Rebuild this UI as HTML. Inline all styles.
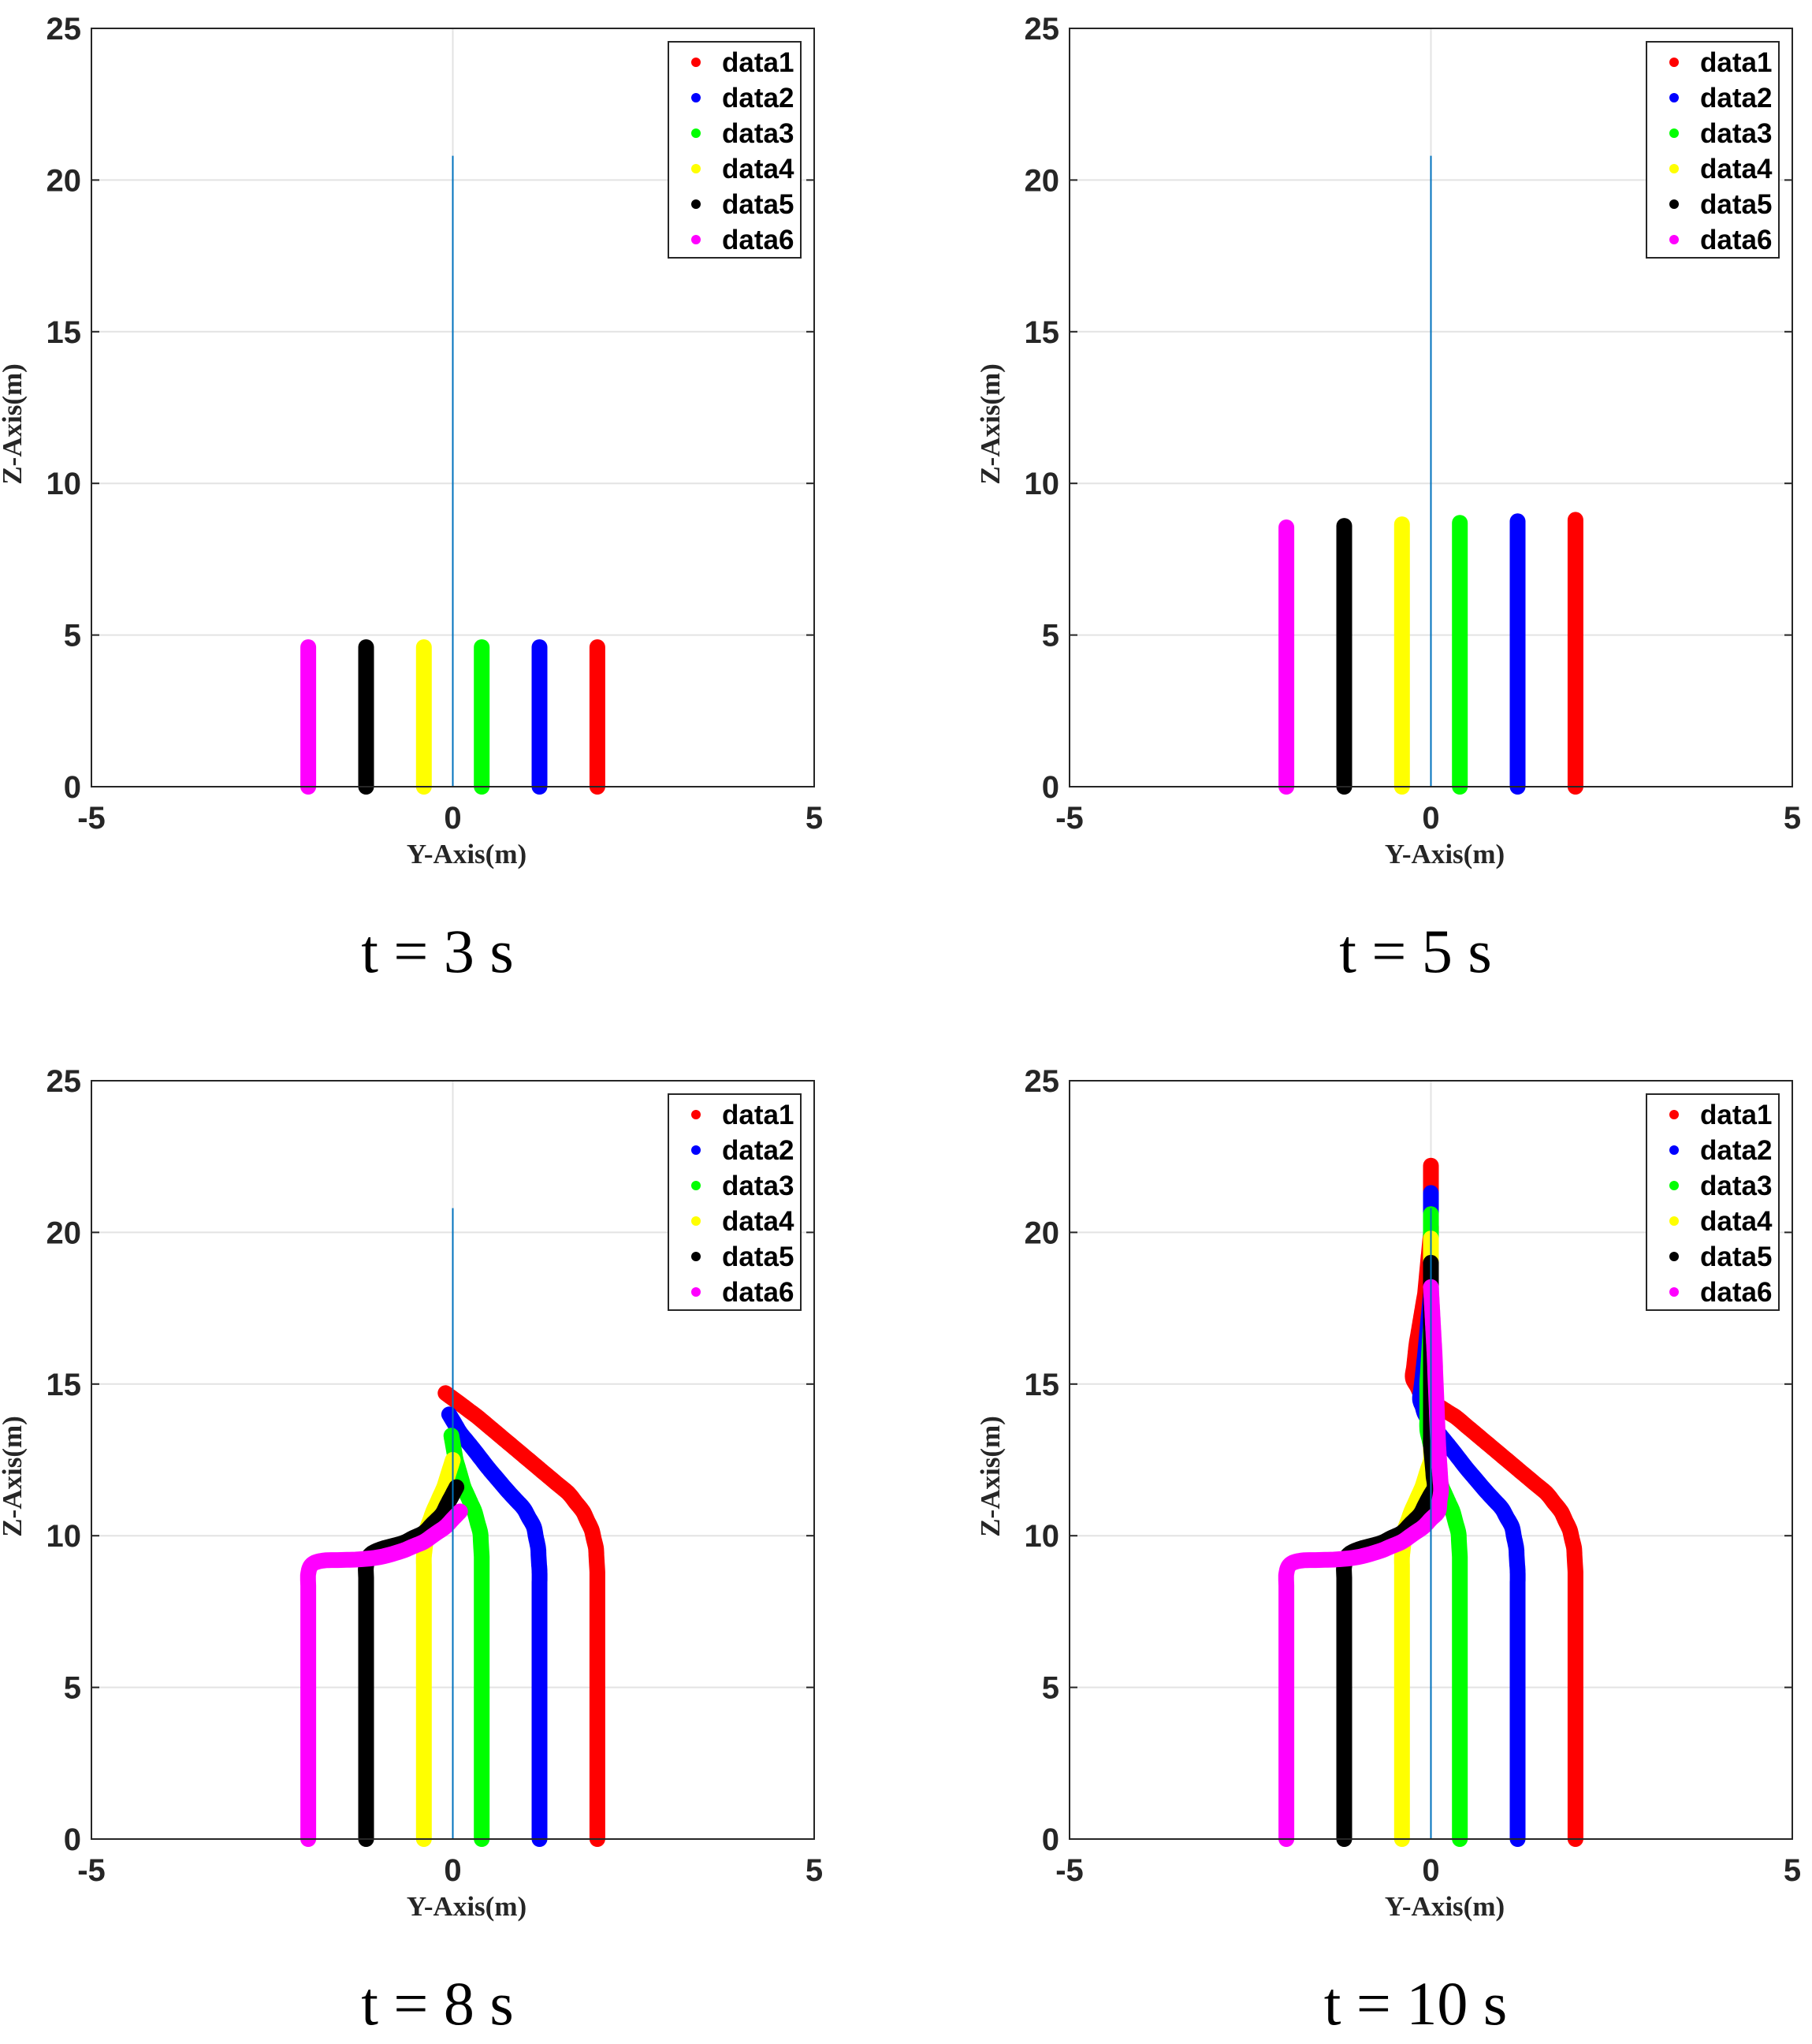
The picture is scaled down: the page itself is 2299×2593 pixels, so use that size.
<!DOCTYPE html>
<html><head><meta charset="utf-8"><style>
html,body{margin:0;padding:0;background:#fff;}
svg{display:block;}
</style></head><body>
<svg id="s" width="2299" height="2593" xmlns="http://www.w3.org/2000/svg"></svg>
<script>
const NS="http://www.w3.org/2000/svg";
const S=document.getElementById('s');
function el(t,a,txt){const e=document.createElementNS(NS,t);for(const k in a)e.setAttribute(k,a[k]);if(txt!==undefined)e.textContent=txt;S.appendChild(e);return e;}
function densify(P){
 const out=[P[0]];
 for(let i=1;i<P.length;i++){
  const a=P[i-1],b=P[i];const d=Math.hypot(b[0]-a[0],b[1]-a[1]);
  const n=Math.max(1,Math.ceil(d/0.4));
  for(let k=1;k<=n;k++)out.push([a[0]+(b[0]-a[0])*k/n,a[1]+(b[1]-a[1])*k/n]);
 }
 return out;
}
function smooth(P){
 if(P.length<3)return P;
 P=densify(P);
 const out=[];
 for(let i=0;i<P.length-1;i++){
  const p0=P[Math.max(0,i-1)],p1=P[i],p2=P[i+1],p3=P[Math.min(P.length-1,i+2)];
  for(let k=0;k<6;k++){
   const t=k/6,t2=t*t,t3=t2*t;
   const f=(a,b,c,d)=>0.5*((2*b)+(-a+c)*t+(2*a-5*b+4*c-d)*t2+(-a+3*b-3*c+d)*t3);
   out.push([f(p0[0],p1[0],p2[0],p3[0]),f(p0[1],p1[1],p2[1],p3[1])]);
  }
 }
 out.push(P[P.length-1]);return out;
}
const W=917,H=962;
const cols=['#ff0000','#0000ff','#00ff00','#ffff00','#000000','#ff00ff'];
const base={
 red:[[2,0],[2,8.8],[1.98,9.6],[1.92,10.2],[1.8,10.8],[1.6,11.4],[1.3,12],[1.0,12.6],[0.65,13.3],[0.35,13.9]],
 blue:[[1.2,0],[1.2,8.8],[1.18,9.6],[1.12,10.3],[0.98,10.9],[0.75,11.5],[0.5,12.2],[0.27,12.9],[0.1,13.4]],
 green:[[0.4,0],[0.4,9.3],[0.38,10.1],[0.3,10.8],[0.15,11.6],[0.04,12.5]],
 yellow:[[-0.4,0],[-0.4,9.3],[-0.36,10.2],[-0.27,10.8],[-0.12,11.6],[0,12.5]],
 black:[[-1.2,0],[-1.2,9],[-1.15,9.35],[-1.0,9.55],[-0.7,9.75],[-0.4,10.1],[-0.15,10.7],[0.05,11.6]],
 mag:[[-2,0],[-2,8.75],[-1.95,9.05],[-1.8,9.18],[-1.3,9.22],[-1.0,9.3],[-0.7,9.5],[-0.4,9.8],[-0.1,10.3],[0.1,10.8]]
};
const t8=[
 base.red.concat([[0.1,14.35],[-0.1,14.7]]),
 base.blue.concat([[-0.05,14]]),
 base.green.concat([[-0.02,13.3]]),
 base.yellow,
 base.black,
 base.mag];
const t10=[
 base.red.concat([[0.12,14.25],[-0.12,14.6],[-0.25,15.2],[-0.2,16.3],[-0.08,18],[0,20],[0,22.2]]),
 base.blue.concat([[-0.08,14],[-0.15,14.5],[-0.08,16],[0,18],[0,21.3]]),
 base.green.concat([[-0.05,13.5],[-0.05,15],[0,17],[0,20.6]]),
 base.yellow.concat([[0,14],[0,19.8]]),
 base.black.concat([[0,13],[0,19]]),
 base.mag.concat([[0.14,11.5],[0.1,13],[0.05,16],[0,18.2]])];
const order=[2,1.2,0.4,-0.4,-1.2,-2];
const t3=order.map(x=>[[x,0],[x,4.6]]);
const tops5=[8.8,8.75,8.7,8.65,8.6,8.55];
const t5=order.map((x,i)=>[[x,0],[x,tops5[i]]]);
const panels=[
 {L:116,T:36,d:t3,lab:'t = 3 s'},
 {L:1357,T:36,d:t5,lab:'t = 5 s'},
 {L:116,T:1371,d:t8,lab:'t = 8 s'},
 {L:1357,T:1371,d:t10,lab:'t = 10 s'}];
panels.forEach(p=>{
 const X=x=>p.L+(x+5)*W/10, Y=z=>p.T+H-z*H/25;
 [5,10,15,20].forEach(z=>el('line',{x1:p.L,x2:p.L+W,y1:Y(z),y2:Y(z),stroke:'#e3e3e3','stroke-width':2}));
 el('line',{x1:X(0),x2:X(0),y1:p.T,y2:p.T+H,stroke:'#e3e3e3','stroke-width':2});
 p.d.forEach((pts,i)=>{
  const sp=smooth(pts);
  el('polyline',{points:sp.map(q=>X(q[0]).toFixed(1)+','+Y(q[1]).toFixed(1)).join(' '),fill:'none',stroke:cols[i],'stroke-width':20,'stroke-linecap':'round','stroke-linejoin':'round'});
 });
 el('line',{x1:X(0),x2:X(0),y1:Y(0),y2:Y(20.8),stroke:'#0072BD','stroke-width':2});
 el('rect',{x:p.L,y:p.T,width:W,height:H,fill:'none',stroke:'#262626','stroke-width':2});
 [0,5,10,15,20,25].forEach(z=>{
  el('line',{x1:p.L,x2:p.L+10,y1:Y(z),y2:Y(z),stroke:'#262626','stroke-width':2});
  el('line',{x1:p.L+W,x2:p.L+W-10,y1:Y(z),y2:Y(z),stroke:'#262626','stroke-width':2});
  el('text',{x:p.L-13,y:Y(z)+14,'text-anchor':'end','font-family':'Liberation Sans, sans-serif','font-weight':'bold','font-size':40,fill:'#262626'},String(z));
 });
 [-5,0,5].forEach(x=>{
  el('text',{x:X(x),y:p.T+H+53,'text-anchor':'middle','font-family':'Liberation Sans, sans-serif','font-weight':'bold','font-size':40,fill:'#262626'},String(x));
 });
 el('text',{x:p.L+476,y:p.T+H+97,'text-anchor':'middle','font-family':'Liberation Serif, serif','font-weight':'bold','font-size':35,fill:'#262626'},'Y-Axis(m)');
 const zx=p.L-89, zy=p.T+502;
 el('text',{x:zx,y:zy,'text-anchor':'middle','font-family':'Liberation Serif, serif','font-weight':'bold','font-size':35,fill:'#262626',transform:`rotate(-90 ${zx} ${zy})`},'Z-Axis(m)');
 const R=p.L+W;
 el('rect',{x:R-185,y:p.T+17,width:168,height:274,fill:'#fff',stroke:'#262626','stroke-width':2});
 cols.forEach((c,i)=>{
  const cy=p.T+43+i*45;
  el('circle',{cx:R-150,cy:cy,r:6,fill:c});
  el('text',{x:R-117,y:cy+12,'font-family':'Liberation Sans, sans-serif','font-weight':'bold','font-size':35,fill:'#000'},'data'+(i+1));
 });
 el('text',{x:p.L+439,y:p.T+1197,'text-anchor':'middle','font-family':'Liberation Serif, serif','font-size':78,fill:'#000'},p.lab);
});
</script>
</body></html>
